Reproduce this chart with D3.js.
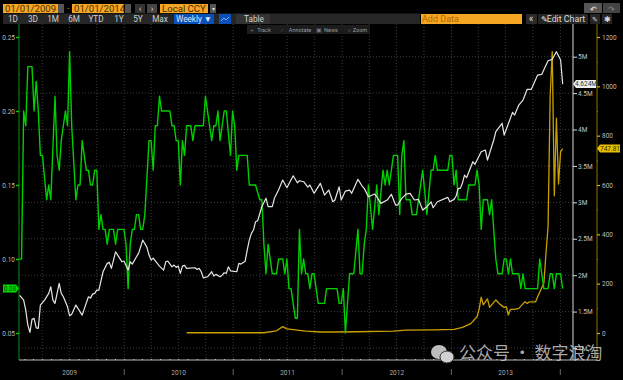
<!DOCTYPE html>
<html><head><meta charset="utf-8">
<script src="https://cdnjs.cloudflare.com/ajax/libs/d3/7.8.5/d3.min.js"></script>
<style>html,body{margin:0;padding:0;background:#000;overflow:hidden}svg{display:block}text{font-family:Roboto,"Liberation Sans",sans-serif}</style>
</head><body><svg id="c" width="623" height="380"></svg>
<script>
// Weekly observations: week number counted from 01/01/2009, then the value of that week
const greenWeeks=[2,3,4,5,6,8,9,10,11,12,13,15,16,17,19,20,21,22,24,25,26,27,28,29,30,31,32,33,34,35,36,37,38,39,40,41,42,43,44,45,47,48,49,52,53,54,55,56,57,58,59,60,61,62,64,65,66,67,68,69,70,74,75,76,77,78,79,80,81,82,84,85,86,90,91,94,95,96,97,98,100,101,103,104,105,106,107,111,112,115,117,118,119,120,121,123,125,126,128,129,130,131,132,134,135,136,137,138,139,140,141,142,143,145,148,149,154,155,156,157,158,160,162,164,165,166,167,168,169,171,173,174,176,177,178,179,181,183,184,185,186,187,189,190,192,195,197,199,200,201,202,207,208,209,210,211,212,216,217,220,221,222,223,224,226,227,228,230,231,233,234,235,236,237,238,241,242,243,244,250,251,253,255,256,257,258,259,261,262];
const greenValues=[.10,.10,.20,.19,.23,.23,.20,.22,.20,.17,.17,.14,.15,.14,.21,.17,.16,.18,.20,.19,.24,.19,.165,.14,.15,.15,.18,.17,.16,.16,.15,.15,.16,.16,.12,.13,.12,.12,.11,.12,.12,.11,.12,.12,.11,.08,.11,.12,.12,.13,.13,.12,.12,.13,.18,.18,.16,.19,.19,.21,.20,.20,.19,.19,.18,.18,.15,.18,.17,.19,.19,.18,.19,.19,.21,.18,.19,.19,.20,.18,.20,.20,.17,.20,.19,.16,.17,.17,.15,.15,.14,.14,.11,.09,.11,.09,.09,.10,.10,.09,.10,.08,.08,.06,.06,.12,.09,.10,.09,.09,.08,.09,.09,.07,.07,.08,.08,.07,.07,.08,.05,.09,.09,.12,.09,.09,.11,.12,.15,.12,.15,.13,.16,.15,.16,.15,.17,.17,.13,.17,.18,.14,.14,.13,.13,.16,.13,.16,.16,.17,.16,.16,.17,.17,.15,.16,.14,.14,.15,.15,.16,.15,.12,.14,.14,.13,.14,.10,.09,.09,.10,.10,.09,.10,.09,.09,.08,.09,.08,.08,.10,.08,.08,.09,.09,.08,.09,.09,.08];
const whiteWeeks=[2,4,5,6,7,8,9,10,11,12,14,16,17,18,19,21,22,23,25,26,27,29,32,35,36,37,38,39,40,42,44,45,46,48,50,51,52,54,55,56,58,59,61,63,64,65,66,69,71,72,73,75,76,77,78,79,80,81,82,86,87,88,89,90,92,94,95,96,98,99,100,101,102,103,106,107,108,110,111,112,113,114,115,116,118,120,121,123,124,126,128,130,133,135,136,138,140,141,143,146,148,150,152,153,155,156,158,160,161,164,166,167,169,172,173,175,178,180,182,183,185,187,189,191,193,195,197,199,200,202,207,208,210,211,212,213,214,215,216,219,220,223,225,226,229,230,233,234,238,239,241,243,245,247,250,252,255,257,259,261,262];
const whiteValues=[1.727,1.658,1.52,1.315,1.214,1.393,1.407,1.277,1.269,1.589,1.658,1.75,1.841,1.658,1.613,1.887,1.75,1.703,1.566,1.442,1.462,1.589,1.452,1.703,1.685,1.74,1.75,1.795,1.795,2.047,2.162,2.176,2.093,2.321,2.231,2.184,2.194,2.07,2.184,2.152,2.253,2.3,2.482,2.382,2.276,2.207,2.234,2.125,2.07,2.184,2.194,2.115,2.139,2.107,2.125,2.025,2.125,2.135,2.093,2.102,2.079,2.093,2.047,1.964,1.978,2.047,1.988,2.011,1.978,2.001,2.033,2.025,2.115,2.06,2.047,2.162,2.152,2.19,2.345,2.482,2.574,2.62,2.734,2.747,2.94,3.055,2.94,2.94,3.055,3.169,3.306,3.201,3.365,3.269,3.297,3.283,3.21,3.238,3.124,3.261,3.1,3.169,3.008,3.032,3.214,3.032,3.155,3.169,3.124,3.316,3.224,3.192,3.077,3.114,3.077,2.986,3.032,3.11,2.963,2.963,3.055,3.114,3.124,3.032,3.041,2.894,2.94,3.008,2.926,3.008,3.069,3.008,3.041,3.087,3.192,3.192,3.261,3.375,3.338,3.558,3.522,3.695,3.718,3.581,3.856,3.97,4.085,3.924,4.236,4.199,4.336,4.405,4.552,4.552,4.748,4.758,4.945,4.964,5.069,4.954,4.624];
const goldWeeks=[82,119,125,128,130,135,139,146,152,163,181,187,200,210,214,218,221,222,223,224,226,227,230,232,234,235,236,237,239,241,244,245,246,249,250,253,254,255,256,257,258,259,260,261,262];
const goldValues=[1,1,9,26,17,12,8,4,4,5,8,12,13,15,23,38,66,96,145,114,138,104,134,116,104,107,73,96,96,100,127,120,126,126,147,202,323,431,959,1141,556,871,604,735,747.81];
// Axis tick values and labels
const leftTicks=[.05,.10,.15,.20,.25];
const leftMinor=[.075,.125,.175,.225];
const midTicks=[1,1.5,2,2.5,3,3.5,4,4.5,5];
const rightTicks=[0,200,400,600,800,1000,1200];
const rightMinor=[100,300,500,700,900,1100];
const yearLabels=[2009,2010,2011,2012,2013];
const rangeButtons=["1D","3D","1M","6M","YTD","1Y","5Y","Max"];
const toolTabs=["Track","Annotate","News","Zoom"];
const lastGreen="0.08",lastWhite="4.624M",lastGold="747.81";
const watermark="公众号 · 数字浪淘";

const GREEN="#00cf00",WHITE="#e6e6e6",GOLD="#c9a000",ORANGE="#f5a623";
const svg=d3.select("#c");
svg.append("rect").attr("width",623).attr("height",380).attr("fill","#000");
const dateOf=w=>d3.timeDay.offset(new Date(2009,0,1),7*w);
const x=d3.scaleTime().domain([new Date(2009,0,1),new Date(2014,0,1)]).range([15.3,560.3]);
const yL=d3.scaleLinear().domain([.05,.25]).range([333,37]);
const yM=d3.scaleLinear().domain([1,5]).range([348,56.7]);
const yR=d3.scaleLinear().domain([0,1200]).range([333,37]);
const plotTop=24,bot=360,xL=19,xM=573,xR=597;

// grid
const grid=svg.append("g").attr("stroke","#4a4a4a").attr("stroke-width",.8).attr("stroke-dasharray","1 2");
grid.selectAll("line.v").data(x.ticks(d3.timeMonth.every(3)).filter(d=>x(d)>xL+2)).join("line").attr("class","v")
  .attr("x1",d=>x(d)).attr("x2",d=>x(d)).attr("y1",plotTop).attr("y2",bot);
grid.selectAll("line.h").data(midTicks).join("line").attr("class","h")
  .attr("x1",xL).attr("x2",xM).attr("y1",d=>yM(d)).attr("y2",d=>yM(d));

// series
const draw=(weeks,values,y,color,w)=>{
  const line=d3.line().x(i=>x(dateOf(weeks[i]))).y(i=>y(values[i])).curve(d3.curveLinear);
  svg.append("path").attr("d",line(d3.range(weeks.length))).attr("fill","none").attr("stroke",color).attr("stroke-width",w).attr("stroke-linejoin","round");
};
draw(goldWeeks,goldValues,yR,GOLD,1.3);
draw(greenWeeks,greenValues,yL,GREEN,1.4);
draw(whiteWeeks,whiteValues,yM,WHITE,1.2);

// axes
const styleAxis=(g,color,labelColor,fs)=>{
  g.select(".domain").attr("stroke",color).attr("stroke-width",1);
  g.selectAll(".tick line").attr("stroke",color);
  g.selectAll("text").attr("fill",labelColor).attr("font-size",fs);
};
const gl=svg.append("g").attr("transform",`translate(${xL},0)`);
gl.call(d3.axisLeft(yL).tickValues(leftTicks).tickFormat(d3.format(".2f")).tickSize(3).tickPadding(1));
styleAxis(gl,"#0a8f0a","#b9b9b9",6.5);
gl.select(".domain").attr("d",`M0,${plotTop}V${bot}`);
gl.selectAll(".tick line").attr("stroke",GREEN).attr("stroke-width",1.4);
const gl2=svg.append("g").attr("transform",`translate(${xL},0)`);
gl2.call(d3.axisRight(yL).tickValues(leftMinor).tickFormat("").tickSize(1));
gl2.select(".domain").remove();gl2.selectAll("line").attr("stroke","#0a8f0a");

const gm=svg.append("g").attr("transform",`translate(${xM},0)`);
gm.call(d3.axisRight(yM).tickValues(midTicks).tickFormat(d=>d+"M").tickSize(4).tickPadding(1));
styleAxis(gm,"#d8d8d8","#c4c4c4",6.5);
gm.select(".domain").attr("d",`M0,${plotTop}V${bot}`);

const gr=svg.append("g").attr("transform",`translate(${xR},0)`);
gr.call(d3.axisRight(yR).tickValues(rightTicks).tickSize(3).tickPadding(2).tickFormat(d3.format("d")));
styleAxis(gr,"#8f7400","#bdbdbd",6.5);
gr.select(".domain").attr("d",`M0,${plotTop}V${bot}`);
gr.selectAll(".tick line").attr("stroke","#e0b000").attr("stroke-width",1.2);
const gr2=svg.append("g").attr("transform",`translate(${xR},0)`);
gr2.call(d3.axisRight(yR).tickValues(rightMinor).tickFormat("").tickSize(1));
gr2.select(".domain").remove();gr2.selectAll("line").attr("stroke","#8f7400");

const gx=svg.append("g").attr("transform",`translate(0,${bot})`);
gx.call(d3.axisTop(x).ticks(d3.timeMonth.every(1)).tickFormat("").tickSize(1));
gx.select(".domain").attr("d",`M${xL},0H${xR}`).attr("stroke","#b8b8b8");
gx.selectAll(".tick line").attr("stroke","#cfcfcf").filter(d=>x(d)<xL).remove();
svg.append("g").selectAll("text").data(yearLabels).join("text")
  .attr("x",d=>x(new Date(d,6,2))).attr("y",375).attr("text-anchor","middle")
  .attr("fill","#a9a9a9").attr("font-size",6.5).text(d=>d);
svg.append("g").selectAll("line").data(yearLabels.slice(1).concat(2014)).join("line")
  .attr("x1",d=>x(new Date(d,0,1))).attr("x2",d=>x(new Date(d,0,1))).attr("y1",369).attr("y2",375)
  .attr("stroke","#666");

// value flags
const flag=(pts,fill,txt,tx,ty,color,anchor)=>{
  svg.append("path").attr("d",d3.line()(pts)).attr("fill",fill);
  svg.append("text").attr("x",tx).attr("y",ty).attr("fill",color).attr("font-size",6.5).attr("text-anchor",anchor).text(txt);
};
const gy=yL(.08);
flag([[3,gy-4],[16,gy-4],[19,gy],[16,gy+4],[3,gy+4]],"#00d800",lastGreen,10,gy+2.4,"#004a00","middle");
const wy=yM(4.624);
flag([[573,wy],[576,wy-4],[596,wy-4],[596,wy+4],[576,wy+4]],"#efefef",lastWhite,586,wy+2.4,"#333","middle");
const oy=yR(747.81);
flag([[597,oy],[600,oy-4],[620,oy-4],[620,oy+4],[600,oy+4]],"#e8c000",lastGold,610,oy+2.4,"#332b00","middle");

// toolbar
const T=svg.append("g");
const box=(a,b,c,d,f)=>T.append("rect").attr("x",a).attr("y",b).attr("width",c-a).attr("height",d-b).attr("fill",f);
const label=(s,a,b,f,fs,an)=>T.append("text").attr("x",a).attr("y",b).attr("fill",f).attr("font-size",fs).attr("text-anchor",an||"middle").text(s);
box(3,4,58,13,ORANGE);label("01/01/2009",5,11.6,"#4a3000",9.6,"start");
box(58,4,64,13,"#555");label("-",68,11,"#e09000",8);
box(72,4,124,13,ORANGE);label("01/01/2014",74,11.6,"#4a3000",9.6,"start");
box(125,4,131,13,"#555");
box(135,4,145,13,"#333");label("‹",140,11.5,"#ddd",9);
box(147,4,157,13,"#444");label("›",152,11.5,"#ddd",9);
box(160,4,208,13,ORANGE);label("Local CCY",162,11.6,"#4a3000",9.6,"start");
box(210,4,216,13,"#555");label("▾",213,11,"#ddd",6);
box(3,13.5,420,24,"#262626");
const btnX=[13,33,53,74,96,119,138,160];
rangeButtons.forEach((s,i)=>label(s,btnX[i],22,"#d0d0d0",8.2));
box(174,14,214,24,"#0b50b8");label("Weekly ▼",194,22,"#dde8ff",8.2);
box(219,14,231,24,"#0b50b8");
T.append("path").attr("d","M221,21L224,18L226,20L229,17").attr("fill","none").attr("stroke","#9cc4ff").attr("stroke-width",.8);
box(236,14,270,24,"#333");label("Table",254,22,"#d0d0d0",8.2);
box(421,14,522,24,ORANGE);label("Add Data",422,22,"#b06a00",9,"start");
box(526,14,537,24,"#2a2a2a");label("«",531,22,"#ddd",10);
box(538,14,588,24,"#262626");label("✎",544,22,"#eee",8);label("Edit Chart",566,22,"#dcdcdc",8.8);
box(590,14,600,24,"#262626");box(602,14,612,24,"#262626");
label("✎",595,22,"#ddd",7);label("✱",607,22,"#ddd",8);
box(584,3,602,13,"#555");label("↶",593,11.5,"#eee",8);
box(603,3,620,13,"#444");label("↷",611,11.5,"#888",8);
box(247,25,370,34,"#1c1c1c");
const tabX=[264,300,331,360];
toolTabs.forEach((s,i)=>{label(s,tabX[i],31.5,"#9a9a9a",5.5);});
["+","⁄","▣","⌕"].forEach((s,i)=>label(s,[252,282,319,349][i],31.5,"#7a7a7a",5.5));

// watermark
const W=svg.append("g");
W.append("ellipse").attr("cx",439).attr("cy",352).attr("rx",8).attr("ry",7).attr("fill","#bdbdbd");
W.append("ellipse").attr("cx",447).attr("cy",357).attr("rx",7).attr("ry",6).attr("fill","#d0d0d0").attr("stroke","#333");
W.append("text").attr("x",459).attr("y",359).attr("fill","#c9c9c9").attr("fill-opacity",.85)
  .attr("font-size",17).style("font-family",'"Noto Sans CJK SC"').text(watermark);
</script></body></html>
